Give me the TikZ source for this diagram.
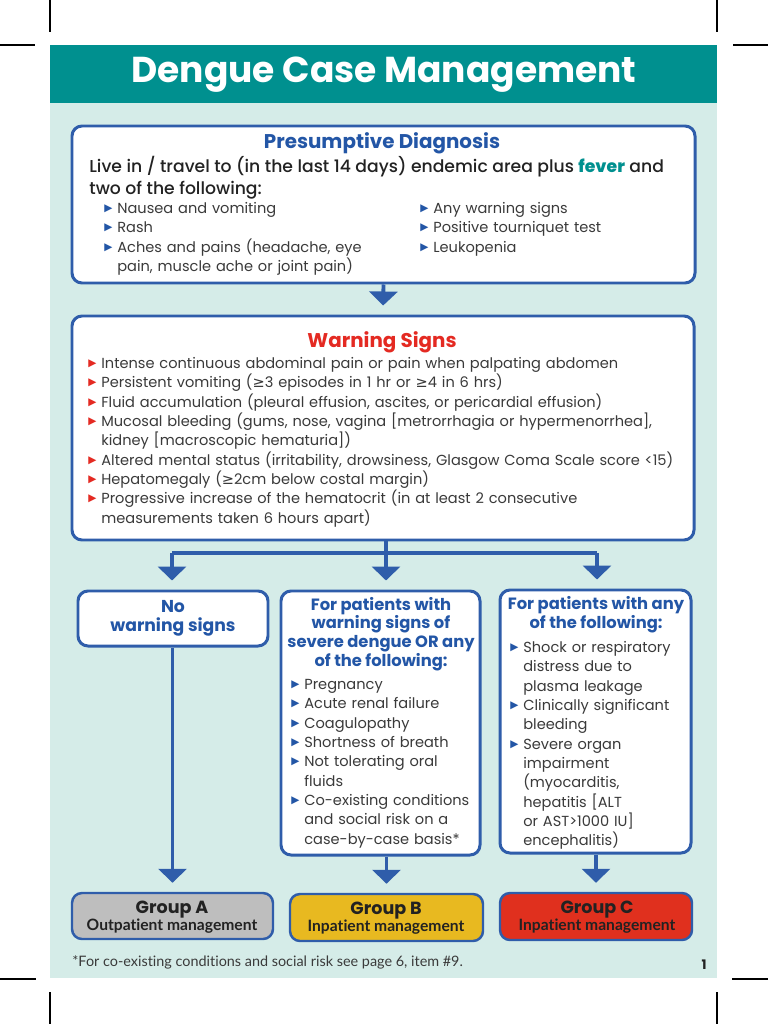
\documentclass[tikz,border=0pt]{standalone}
\usepackage{fontspec}
\setmainfont{Poppins}
\newfontfamily\symf{DejaVu Sans}
\newfontfamily\narrowf{Lato}[Ligatures=NoCommon]
\newfontfamily\medf{Poppins Medium}
\usetikzlibrary{arrows.meta,positioning,fit}
\definecolor{tealhead}{HTML}{00908F}
\definecolor{panel}{HTML}{D5ECE8}
\definecolor{blueline}{HTML}{2F5DAA}
\definecolor{bluehead}{HTML}{2356A6}
\definecolor{redhead}{HTML}{E42A22}
\definecolor{bodytext}{HTML}{3A3A3A}
\definecolor{darktext}{HTML}{222222}
\definecolor{grayfill}{HTML}{BEBEBE}
\definecolor{yellowfill}{HTML}{E8B920}
\definecolor{redfill}{HTML}{E0301E}
% bullet with hanging indent
\newcommand{\blt}[1]{\makebox[0.26cm][l]{\raisebox{0.25ex}{\textcolor{#1}{\symf\fontsize{6}{6}\selectfont ▶}}}}
\newcommand{\itm}[2]{\hangindent=0.26cm\hangafter=1\noindent\blt{#1}#2\par}
\begin{document}
\begin{tikzpicture}[x=0.02cm, y=-0.02cm,
    box/.style={draw=blueline, line width=1.7pt, rounded corners=0.2cm, fill=white, inner sep=0pt},
    grp/.style={draw=blueline, line width=1.4pt, rounded corners=0.2cm, inner sep=0pt},
    flow/.style={draw=blueline, line width=2.2pt, -{Triangle[width=0.56cm,length=0.28cm]}, shorten >=0.18cm},
    link/.style={draw=blueline, line width=2.2pt},
    crop/.style={line width=0.6pt, black},
    txt/.style={inner sep=0pt, anchor=north west, align=left, text=bodytext, font=\fontsize{8.3}{11}\selectfont},
    head/.style={inner sep=0pt, align=center, text=bluehead, font=\bfseries\fontsize{9.3}{10.6}\selectfont},
    gtitle/.style={inner sep=0pt, anchor=base, text=darktext, font=\bfseries\fontsize{10}{11}\selectfont},
    gsub/.style={inner sep=0pt, anchor=base, text=darktext, font=\narrowf\bfseries\fontsize{8.9}{10}\selectfont}
]
% page, panel and crop marks
\fill[white] (0,0) rectangle (768,1024);
\useasboundingbox (0,0) rectangle (768,1024);
\fill[panel] (50,103) rectangle (717,978);
\fill[tealhead] (50,45) rectangle (717,103);
\draw[crop] (50,0) -- (50,32);
\draw[crop] (717,0) -- (717,32);
\draw[crop] (0,45) -- (35,45);
\draw[crop] (733,45) -- (768,45);
\draw[crop] (50,992) -- (50,1024);
\draw[crop] (717,992) -- (717,1024);
\draw[crop] (0,979) -- (36,979);
\draw[crop] (732,979) -- (768,979);
\node[text=white, font=\bfseries\fontsize{20.5}{22}\selectfont] (title) at (384,75) {Dengue Case Management};

% Presumptive diagnosis
\node[box, fit={(72,126) (695,283)}] (pd) {};
\node[head, font=\bfseries\fontsize{11.3}{12}\selectfont] (pdt) at (382,143) {Presumptive Diagnosis};
\node[txt, text=darktext, font=\medf\fontsize{9.8}{12.4}\selectfont] (pdl) at (89,156)
    {Live in / travel to (in the last 14 days) endemic area plus \textcolor{tealhead}{\bfseries fever} and\\two of the following:};
\node[txt, text width=6cm] (pdi1) at (104,202)
    {\itm{bluehead}{Nausea and vomiting}\itm{bluehead}{Rash}\itm{bluehead}{Aches and pains (headache, eye\newline pain, muscle ache or joint pain)}};
\node[txt, text width=5cm] (pdi2) at (420,202)
    {\itm{bluehead}{Any warning signs}\itm{bluehead}{Positive tourniquet test}\itm{bluehead}{Leukopenia}};

% Warning signs
\node[box, fit={(72,316) (694,540)}] (ws) {};
\node[head, text=redhead, font=\bfseries\fontsize{11.3}{12}\selectfont] (wst) at (382,342) {Warning Signs};
\node[txt, text width=12.2cm] (wsi) at (88,357)
    {\itm{redhead}{Intense continuous abdominal pain or pain when palpating abdomen}%
     \itm{redhead}{Persistent vomiting ({\symf ≥}3 episodes in 1 hr or {\symf ≥}4 in 6 hrs)}%
     \itm{redhead}{Fluid accumulation (pleural effusion, ascites, or pericardial effusion)}%
     \itm{redhead}{Mucosal bleeding (gums, nose, vagina [metrorrhagia or hypermenorrhea],\newline kidney [macroscopic hematuria])}%
     \itm{redhead}{Altered mental status (irritability, drowsiness, Glasgow Coma Scale score <15)}%
     \itm{redhead}{Hepatomegaly ({\symf ≥}2cm below costal margin)}%
     \itm{redhead}{Progressive increase of the hematocrit (in at least 2 consecutive\newline measurements taken 6 hours apart)}};

% Three pathways
\node[box, fit={(78,591) (268,646)}] (nw) {};
\node[head, font=\bfseries\fontsize{9.8}{10.6}\selectfont] (nwt) at (nw.center) {No\\warning signs};
\node[box, fit={(281,591) (480,855)}] (pb) {};
\node[head] (pbt) at (381,634) {For patients with\\warning signs of\\severe dengue OR any\\of the following:};
\node[txt, text width=3.8cm] (pbi) at (291,679)
    {\itm{bluehead}{Pregnancy}\itm{bluehead}{Acute renal failure}\itm{bluehead}{Coagulopathy}%
     \itm{bluehead}{Shortness of breath}\itm{bluehead}{Not tolerating oral\newline fluids}%
     \itm{bluehead}{Co-existing conditions\newline and social risk on a\newline case-by-case basis*}};
\node[box, fit={(500,590) (691,853)}] (pc) {};
\node[head] (pct) at (596,615) {For patients with any\\of the following:};
\node[txt, text width=3.7cm] (pci) at (510,641)
    {\itm{bluehead}{Shock or respiratory\newline distress due to\newline plasma leakage}\itm{bluehead}{Clinically significant\newline bleeding}%
     \itm{bluehead}{Severe organ\newline impairment\newline (myocarditis,\newline hepatitis [ALT\newline or AST>1000 IU]\newline encephalitis)}};

% Groups
\node[grp, fill=grayfill, fit={(72,893) (273,939)}] (ga) {};
\node[gtitle] (gat) at (172,913) {Group A};
\node[gsub] (gas) at (172,930) {Outpatient management};
\node[grp, fill=yellowfill, fit={(290,894) (483,941)}] (gb) {};
\node[gtitle] (gbt) at (386,914) {Group B};
\node[gsub] (gbs) at (386,931) {Inpatient management};
\node[grp, fill=redfill, fit={(500,893) (692,940)}] (gc) {};
\node[gtitle] (gct) at (597,913) {Group C};
\node[gsub] (gcs) at (597,930) {Inpatient management};

% Connectors
\coordinate (split) at (386,553);
\coordinate (brA) at (172,553);
\coordinate (brC) at (597,553);
\draw[flow] (pd.south) -- (ws.north);
\draw[link] (ws.south -| split) -- (split);
\draw[link] (brA) -- (brC);
\draw[flow] (brA) -- (brA |- nw.north);
\draw[flow] (split) -- (split |- pb.north);
\draw[flow] (brC) -- (brC |- pc.north);
\draw[flow] (nw.south -| ga.north) -- (ga.north);
\draw[flow] (pb.south -| gb.north) -- (gb.north);
\draw[flow] (pc.south -| gc.north) -- (gc.north);

% Footer
\node[anchor=west, inner sep=0pt, text=bodytext, font=\narrowf\fontsize{8.2}{9}\selectfont] (fn) at (72,962)
    {*For co-existing conditions and social risk see page 6, item \#9.};
\node[inner sep=0pt, text=darktext, font=\bfseries\fontsize{7.5}{8}\selectfont] (pg) at (704,965) {1};
\end{tikzpicture}
\end{document}
